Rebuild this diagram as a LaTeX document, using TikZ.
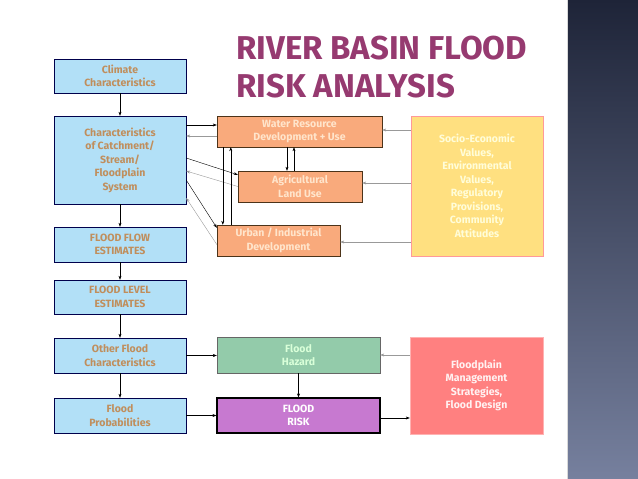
\documentclass[tikz,border=0pt]{standalone}
\usepackage{fontspec}
\setmainfont{Fira Sans}
\usetikzlibrary{arrows.meta,calc}

\definecolor{boxblue}{RGB}{178,224,247}
\definecolor{txtbrown}{RGB}{192,142,92}
\definecolor{boxorange}{RGB}{249,170,124}
\definecolor{boxyellow}{RGB}{255,224,128}
\definecolor{boxgreen}{RGB}{147,203,170}
\definecolor{boxpurple}{RGB}{199,121,208}
\definecolor{boxpink}{RGB}{255,128,128}
\definecolor{titlepurple}{RGB}{150,58,112}
\definecolor{paneltop}{RGB}{30,36,56}
\definecolor{panelbot}{RGB}{118,128,158}

\tikzset{
  base/.style={draw, rectangle, inner sep=2pt, align=center,
    font=\bfseries\fontsize{10.5}{13.5}\selectfont},
  bluebox/.style={base, fill=boxblue, draw=black!70!blue, text=txtbrown,
    minimum width=132pt},
  orangebox/.style={base, fill=boxorange, draw=black!60!brown, text=white!80!orange},
  flow/.style={-{Stealth[length=4pt,width=3pt]}, thin},
  backflow/.style={flow, draw=black!40}
}

\begin{document}
\begin{tikzpicture}[x=1pt,y=-1pt]
  \useasboundingbox (0,0) rectangle (638,479);

  % side panel
  \shade[top color=paneltop, bottom color=panelbot] (568,0) rectangle (638,479);
  \draw[black!15] (567,0) -- (567,479);

  % title
  \node[anchor=north west, align=left, text=titlepurple, inner sep=0pt,
    font=\bfseries\fontsize{33}{38}\selectfont] (title) at (236,36)
    {RIVER BASIN FLOOD\\RISK ANALYSIS};

  % left column
  \node[bluebox, minimum height=34pt] (clim) at (120,76) {Climate\\Characteristics};
  \node[bluebox, minimum height=88pt] (catch) at (120,160)
    {Characteristics\\of Catchment/\\Stream/\\Floodplain\\System};
  \node[bluebox, minimum height=35pt] (flowest) at (120,244.5) {FLOOD FLOW\\ESTIMATES};
  \node[bluebox, minimum height=34pt] (level) at (120,297) {FLOOD LEVEL\\ESTIMATES};
  \node[bluebox, minimum height=35pt] (other) at (120,355.5) {Other Flood\\Characteristics};
  \node[bluebox, minimum height=35pt] (prob) at (120,415.5) {Flood\\Probabilities};

  % development boxes
  \node[orangebox, minimum width=165pt, minimum height=31pt] (water) at (299.5,131.5)
    {Water Resource\\Development + Use};
  \node[orangebox, minimum width=124pt, minimum height=31pt] (agri) at (300,186.5)
    {Agricultural\\Land Use};
  \node[orangebox, minimum width=123pt, minimum height=31pt] (urban) at (278.5,240.5)
    {Urban / Industrial\\Development};

  \node[base, fill=boxyellow, draw=red!40, text=white!85!yellow,
    minimum width=132pt, minimum height=140pt] (socio) at (477,186)
    {Socio-Economic\\Values,\\Environmental\\Values,\\Regulatory\\Provisions,\\Community\\Attitudes};

  % hazard and risk
  \node[base, fill=boxgreen, draw=black!60, text=white!85!green,
    minimum width=163pt, minimum height=36pt] (hazard) at (298.5,355) {Flood\\Hazard};
  \node[base, fill=boxpurple, draw=black, line width=1.2pt, text=white,
    minimum width=163pt, minimum height=35pt] (risk) at (298.5,415.5) {FLOOD\\RISK};
  \node[base, fill=boxpink, draw=red!30, text=white!80!pink,
    minimum width=133pt, minimum height=97pt] (mgmt) at (476.5,385.5)
    {Floodplain\\Management\\Strategies,\\Flood Design};

  % left column arrows
  \draw[flow] (clim) -- (catch);
  \draw[flow] (catch) -- (flowest);
  \draw[flow] (flowest) -- (level);
  \draw[flow] (level) -- (other);
  \draw[flow] (other) -- (prob);

  % catchment <-> development
  \draw[flow] (catch.east |- {0,125}) -- (water.west |- {0,125});
  \draw[backflow] (water.west |- {0,136}) -- (catch.east |- {0,136});
  \draw[flow] (catch.east |- {0,158}) -- ([yshift=-4pt]agri.north west);
  \draw[backflow] (agri.west) -- (catch.east |- {0,171});
  \draw[flow] (catch.east |- {0,180}) -- ([yshift=-3pt]urban.north west);
  \draw[backflow] ([yshift=-4pt]urban.west) -- (catch.east |- {0,198});

  % development <-> development
  \draw[flow] ([xshift=6pt]water.south west) -- ([xshift=6pt]urban.north west);
  \draw[flow] ([xshift=14pt]urban.north west) -- ([xshift=14pt]water.south west);
  \draw[flow] (water.south -| {287,0}) -- (agri.north -| {287,0});
  \draw[flow] (agri.north -| {294,0}) -- (water.south -| {294,0});

  % socio-economic factors
  \draw[backflow] (socio.west |- {0,130}) -- (water.east |- {0,130});
  \draw[backflow] (socio.west |- {0,183}) -- (agri.east |- {0,183});
  \draw[backflow] (socio.west |- {0,242}) -- (urban.east |- {0,242});

  % hazard and risk
  \draw[flow] (other) -- (hazard.west |- other);
  \draw[flow] (prob) -- (risk.west |- prob);
  \draw[flow] (hazard) -- (risk);
  \draw[backflow] (mgmt.west |- hazard) -- (hazard);
  \draw[flow] (risk.east |- {0,418}) -- (mgmt.west |- {0,418});
\end{tikzpicture}
\end{document}
